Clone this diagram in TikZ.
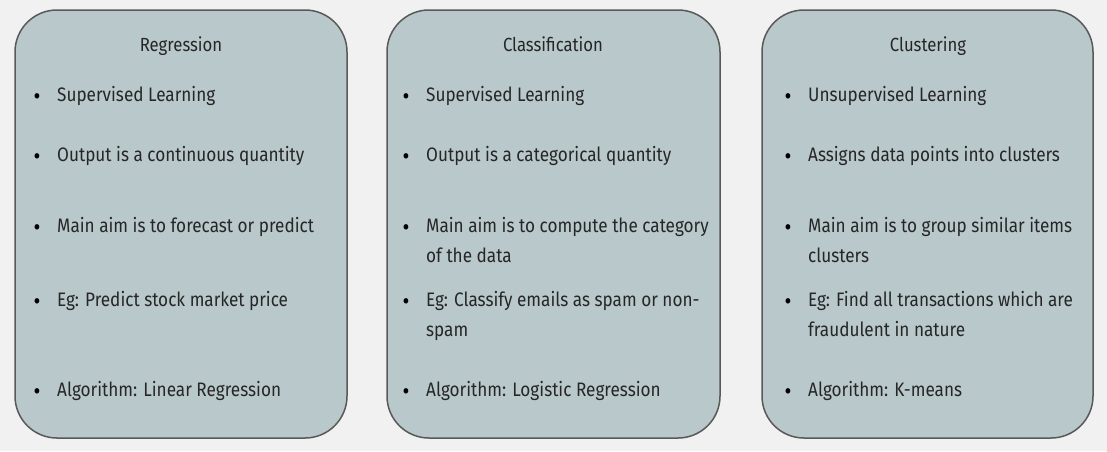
\documentclass[tikz,border=0pt]{standalone}
\usepackage{fontspec}
\setmainfont[FakeStretch=0.88]{Fira Sans}
\begin{document}
\begin{tikzpicture}[x=1pt,y=-1pt,
  card/.style={draw=gray!70!black,line width=1.5pt,fill=cardfill,rounded corners=42pt},
  ttl/.style={anchor=base,font=\fontsize{19}{30}\selectfont,text=black!85},
  itm/.style={anchor=base west,font=\fontsize{19.5}{30}\selectfont,text=black!85,inner sep=0pt},
  blt/.style={anchor=base,font=\fontsize{24}{30}\selectfont,inner sep=0pt}]
\definecolor{cardfill}{HTML}{B9C8CB}
\definecolor{bg}{HTML}{F1F1F1}
\fill[bg] (0,0) rectangle (1107,451);
\useasboundingbox (0,0) rectangle (1107,451);
\foreach \x/\w in {15/332,387/333,762/331}{
  \draw[card] (\x,10) rectangle ++(\w,428);
}
\newcommand{\ttlx}[2]{\node[ttl] at (#1+166,51) {#2};}
\newcommand{\itx}[4]{\node[blt] at (#1+22,#2+3) {•};\node[itm] at (#1+42,#2) {#3};
  \if\relax\detokenize{#4}\relax\else\node[itm] at (#1+42,#2+30) {#4};\fi}
\ttlx{15}{Regression}
\itx{15}{101}{Supervised Learning}{}
\itx{15}{161}{Output is a continuous quantity}{}
\itx{15}{232}{Main aim is to forecast or predict}{}
\itx{15}{306}{Eg: Predict stock market price}{}
\itx{15}{396}{Algorithm: Linear Regression}{}
\ttlx{387}{Classification}
\itx{384}{101}{Supervised Learning}{}
\itx{384}{161}{Output is a categorical quantity}{}
\itx{384}{232}{Main aim is to compute the category}{of the data}
\itx{384}{306}{Eg: Classify emails as spam or non-}{spam}
\itx{384}{396}{Algorithm: Logistic Regression}{}
\ttlx{762}{Clustering}
\itx{766}{101}{Unsupervised Learning}{}
\itx{766}{161}{Assigns data points into clusters}{}
\itx{766}{232}{ Main aim is to group similar items}{clusters}
\itx{766}{306}{Eg: Find all transactions which are}{fraudulent in nature}
\itx{766}{396}{Algorithm: K-means}{}
\end{tikzpicture}
\end{document}
